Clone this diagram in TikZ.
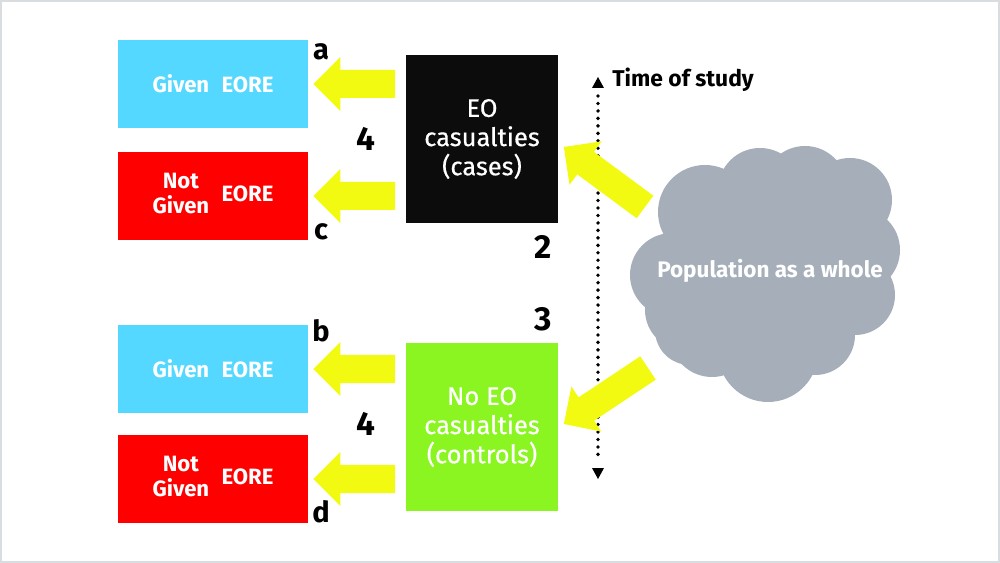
\documentclass[tikz,border=0pt]{standalone}
\usepackage{fontspec}
\setmainfont{Fira Sans}
\newfontfamily\medfont{Fira Sans}[FakeBold=0.5]
\usetikzlibrary{calc}
\definecolor{eoblue}{HTML}{55D8FF}
\definecolor{eored}{HTML}{FE0000}
\definecolor{eoblack}{HTML}{0C0C0C}
\definecolor{eogreen}{HTML}{8AF520}
\definecolor{eoyellow}{HTML}{F3FA12}
\definecolor{cloudgray}{HTML}{A6AFB9}
\definecolor{framegray}{HTML}{DADDE0}
% block arrow from #1 (tail) to #2 (tip)
\newcommand\blockarrow[2]{%
  \fill[eoyellow] let \p1=(#1), \p2=(#2),
    \n1={veclen(\x1-\x2,\y1-\y2)},
    \n2={(\x1-\x2)/\n1}, \n3={(\y1-\y2)/\n1} in
    (\p2)
    -- ({\x2+15.37*(\n2)-15.37*(\n3)},{\y2+15.37*(\n3)+15.37*(\n2)})
    -- ({\x2+15.37*(\n2)-7.97*(\n3)},{\y2+15.37*(\n3)+7.97*(\n2)})
    -- ({\x1-7.97*(\n3)},{\y1+7.97*(\n2)})
    -- ({\x1+7.97*(\n3)},{\y1-7.97*(\n2)})
    -- ({\x2+15.37*(\n2)+7.97*(\n3)},{\y2+15.37*(\n3)-7.97*(\n2)})
    -- ({\x2+15.37*(\n2)+15.37*(\n3)},{\y2+15.37*(\n3)-15.37*(\n2)})
    -- cycle;}
\tikzset{
  outbox/.style={rectangle, inner sep=0pt, minimum width=3.8cm, minimum height=1.76cm,
    text=white, font=\bfseries\fontsize{12.6}{14}\selectfont},
  midbox/.style={rectangle, inner sep=0pt, minimum width=3.06cm, minimum height=3.36cm,
    text=white, align=center, font=\medfont\fontsize{14.5}{16.6}\selectfont},
  letterlab/.style={anchor=base, inner sep=0pt, font=\bfseries\fontsize{16.5}{18}\selectfont},
  numlab/.style={anchor=base, inner sep=0pt, font=\bfseries\fontsize{19}{22}\selectfont},
  dotline/.style={line width=2.2pt, line cap=round, dash pattern=on 0pt off 4.25pt},
  cloudfill/.style={fill=cloudgray}
}
\begin{document}
\begin{tikzpicture}[x=0.02cm, y=-0.02cm]
\useasboundingbox (0,0) rectangle (1000,563);
\fill[white] (0,0) rectangle (1000,563);
\draw[framegray, line width=1.1pt] (1,1) rectangle (999,562);

% cloud
\foreach \cx/\cy/\r in {705/212/47, 760/190/42, 805/188/42, 850/200/42, 858/250/42,
  855/295/40, 815/335/40, 768/352/50, 712/335/42, 690/330/35, 672/275/42, 685/310/40, 775/265/95}
  \fill[cloudfill] (\cx,\cy) circle[radius=\r];
\node[text=white, font=\bfseries\fontsize{12.8}{15}\selectfont] (pop) at (770,271) {Population as a whole};

% time axis
\coordinate (ttop) at (598,77);
\coordinate (tbot) at (598,479);
\draw[dotline] (598,96) -- (598,459);
\fill (ttop) -- ++(6,11) -- ++(-12,0) -- cycle;
\fill (tbot) -- ++(6,-11) -- ++(-12,0) -- cycle;
\node[anchor=base west, inner sep=0pt, font=\bfseries\fontsize{13}{15}\selectfont] (time) at (612,87) {Time of study};

% boxes
\node[outbox, fill=eoblue] (g1) at (213,84) {Given\hspace{7pt}EORE};
\node[outbox, fill=eored] (n1) at (213,196) {\begin{tabular}{@{}c@{}}Not\\Given\end{tabular}\hspace{7pt}EORE};
\node[outbox, fill=eoblue] (g2) at (213,369) {Given\hspace{7pt}EORE};
\node[outbox, fill=eored] (n2) at (213,479) {\begin{tabular}{@{}c@{}}Not\\Given\end{tabular}\hspace{7pt}EORE};
\node[midbox, fill=eoblack] (cases) at (482,139) {EO\\casualties\\(cases)};
\node[midbox, fill=eogreen] (controls) at (482,427) {No EO\\casualties\\(controls)};

% labels
\node[letterlab] (la) at (321,60) {a};
\node[letterlab] (lc) at (321,240) {c};
\node[letterlab] (lb) at (321,342) {b};
\node[letterlab] (ld) at (321,522) {d};
\node[numlab] (four1) at (366,151) {4};
\node[numlab] (four2) at (366,436) {4};
\node[numlab] (two) at (543,259) {2};
\node[numlab] (three) at (543,331) {3};

% arrows
\blockarrow{$(cases.west |- g1.east)+(-10,0)$}{$(g1.east)+(5,0)$}
\blockarrow{$(cases.west |- n1.east)+(-10,0)$}{$(n1.east)+(5,0)$}
\blockarrow{$(controls.west |- g2.east)+(-10,0)$}{$(g2.east)+(5,0)$}
\blockarrow{$(controls.west |- n2.east)+(-10,0)$}{$(n2.east)+(5,0)$}
\coordinate (t1) at (645,207);
\coordinate (t2) at (648,368);
\blockarrow{t1}{$(cases.east)+(5,8)$}
\blockarrow{t2}{$(controls.east)+(5,-3)$}
\end{tikzpicture}
\end{document}
